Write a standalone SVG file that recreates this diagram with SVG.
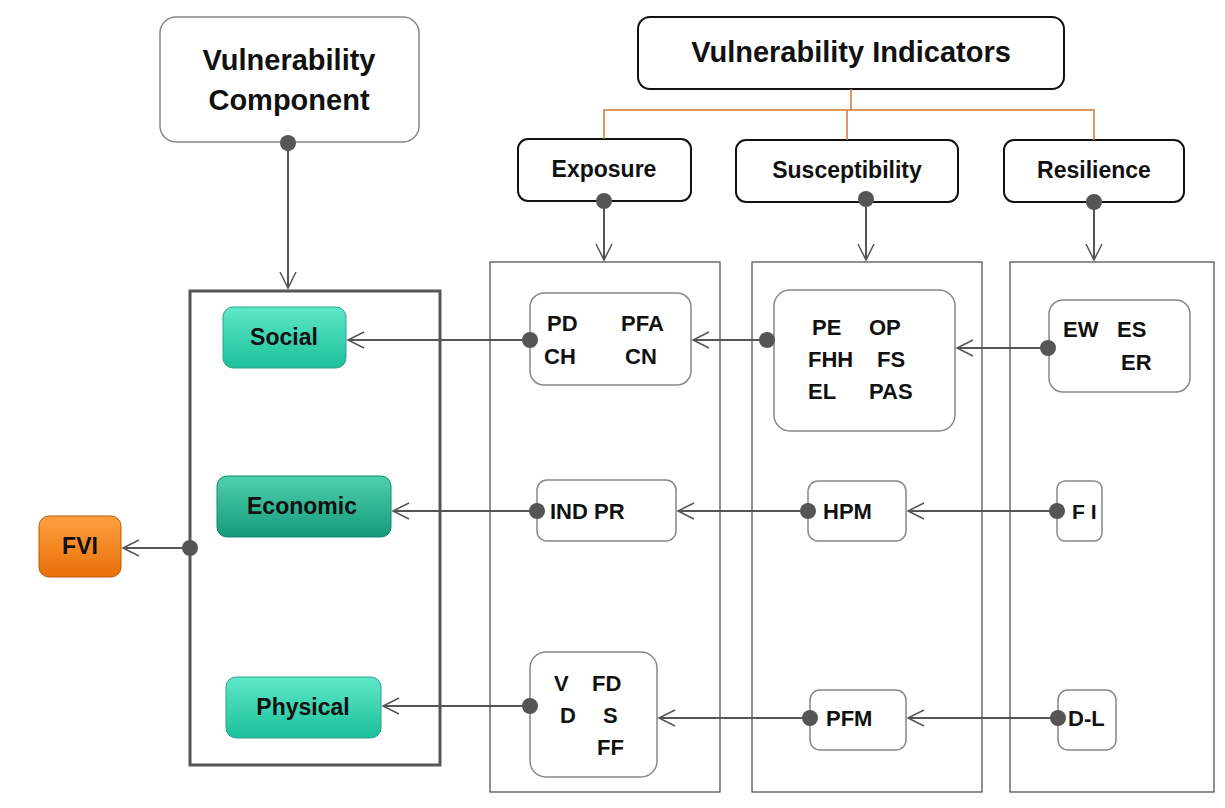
<svg xmlns="http://www.w3.org/2000/svg" width="1225" height="808" viewBox="0 0 1225 808">
<style>
text{font-family:"Liberation Sans",Arial,sans-serif;font-weight:bold;fill:#111}
.n{fill:#fff;stroke:#888;stroke-width:1.5}
.h{fill:#fff;stroke:#111;stroke-width:2}
.col{fill:none;stroke:#555;stroke-width:1.3}
.c{stroke:#555;stroke-width:2;fill:none;marker-start:url(#dot);marker-end:url(#arr)}
.o{stroke:#d07a30;stroke-width:1.5;fill:none}
</style>
<defs>
<linearGradient id="tg" x1="0" y1="0" x2="0" y2="1"><stop offset="0" stop-color="#5ee8c8"/><stop offset="1" stop-color="#1cbf9a"/></linearGradient>
<linearGradient id="tg2" x1="0" y1="0" x2="0" y2="1"><stop offset="0" stop-color="#4fd0ad"/><stop offset="1" stop-color="#159a7a"/></linearGradient>
<linearGradient id="og" x1="0" y1="0" x2="0" y2="1"><stop offset="0" stop-color="#ffa040"/><stop offset="1" stop-color="#e8700a"/></linearGradient>
<marker id="dot" markerWidth="10" markerHeight="10" refX="5" refY="5" markerUnits="userSpaceOnUse" overflow="visible"><circle cx="5" cy="5" r="8" fill="#555"/></marker>
<marker id="arr" markerWidth="20" markerHeight="20" refX="16" refY="8" markerUnits="userSpaceOnUse" orient="auto" overflow="visible"><path d="M0,0 L16,8 L0,16 M8,4 L16,8 L8,12" fill="none" stroke="#555" stroke-width="1.5"/></marker>
</defs>
<g id="columns">
<rect class="col" x="490" y="262" width="230" height="530"/>
<rect class="col" x="752" y="262" width="230" height="530"/>
<rect class="col" x="1010" y="262" width="204" height="530"/>
<rect x="190" y="291" width="250" height="474" fill="none" stroke="#555" stroke-width="3"/>
</g>
<g id="vulnerability-component"><rect class="n" x="160" y="17" width="259" height="125" rx="16"/><text x="289" y="70" font-size="29" text-anchor="middle">Vulnerability</text><text x="289" y="110" font-size="29" text-anchor="middle">Component</text></g>
<g id="vulnerability-indicators"><rect class="h" x="638" y="17" width="426" height="72" rx="12"/><text x="851" y="62" font-size="29" text-anchor="middle">Vulnerability Indicators</text></g>
<g id="exposure"><rect class="h" x="518" y="139" width="173" height="62" rx="10" stroke-width="1.5"/><text x="604" y="177" font-size="23" text-anchor="middle">Exposure</text></g>
<g id="susceptibility"><rect class="h" x="736" y="140" width="222" height="62" rx="10" stroke-width="1.5"/><text x="847" y="178" font-size="23" text-anchor="middle">Susceptibility</text></g>
<g id="resilience"><rect class="h" x="1004" y="140" width="180" height="62" rx="10" stroke-width="1.5"/><text x="1094" y="178" font-size="23" text-anchor="middle">Resilience</text></g>
<g id="social"><rect x="223" y="307" width="123" height="61" rx="10" fill="url(#tg)" stroke="#2aa58a"/><text x="284" y="345" font-size="23" text-anchor="middle">Social</text></g>
<g id="economic"><rect x="217" y="476" width="174" height="61" rx="10" fill="url(#tg2)" stroke="#138a6c"/><text x="302" y="514" font-size="23" text-anchor="middle">Economic</text></g>
<g id="physical"><rect x="226" y="677" width="155" height="61" rx="10" fill="url(#tg)" stroke="#2aa58a"/><text x="303" y="715" font-size="23" text-anchor="middle">Physical</text></g>
<g id="fvi"><rect x="39" y="516" width="82" height="61" rx="10" fill="url(#og)" stroke="#c05a00"/><text x="80" y="554" font-size="23" text-anchor="middle">FVI</text></g>
<g id="exp-social"><rect class="n" x="530" y="293" width="161" height="92" rx="14"/><text x="547" y="331" font-size="22">PD</text><text x="621" y="331" font-size="22">PFA</text><text x="544" y="364" font-size="22">CH</text><text x="625" y="364" font-size="22">CN</text></g>
<g id="sus-social"><rect class="n" x="774" y="290" width="181" height="141" rx="16"/><text x="812" y="335" font-size="22">PE</text><text x="869" y="335" font-size="22">OP</text><text x="808" y="367" font-size="22">FHH</text><text x="877" y="367" font-size="22">FS</text><text x="808" y="399" font-size="22">EL</text><text x="869" y="399" font-size="22">PAS</text></g>
<g id="res-social"><rect class="n" x="1049" y="300" width="141" height="92" rx="14"/><text x="1063" y="337" font-size="22">EW</text><text x="1117" y="337" font-size="22">ES</text><text x="1121" y="370" font-size="22">ER</text></g>
<g id="exp-economic"><rect class="n" x="537" y="480" width="139" height="61" rx="10"/><text x="550" y="519" font-size="22">IND  PR</text></g>
<g id="sus-economic"><rect class="n" x="808" y="481" width="98" height="60" rx="10"/><text x="823" y="519" font-size="22">HPM</text></g>
<g id="res-economic"><rect class="n" x="1057" y="481" width="45" height="60" rx="8"/><text x="1072" y="519" font-size="21">F I</text></g>
<g id="exp-physical"><rect class="n" x="530" y="652" width="127" height="125" rx="16"/><text x="554" y="691" font-size="22">V</text><text x="592" y="691" font-size="22">FD</text><text x="560" y="723" font-size="22">D</text><text x="603" y="723" font-size="22">S</text><text x="597" y="755" font-size="22">FF</text></g>
<g id="sus-physical"><rect class="n" x="810" y="690" width="96" height="60" rx="10"/><text x="826" y="726" font-size="22">PFM</text></g>
<g id="res-physical"><rect class="n" x="1058" y="690" width="58" height="60" rx="10"/><text x="1068" y="726" font-size="22">D-L</text></g>
<g id="connectors">
<path class="o" d="M851,89 V110 M604,139 V110 H1094 V140 M847,110 V140"/>
<path class="c" d="M288,143 V288"/>
<path class="c" d="M604,201 V260"/>
<path class="c" d="M866,199 V260"/>
<path class="c" d="M1094,202 V260"/>
<path class="c" d="M530,340 H348"/>
<path class="c" d="M767,340 H693"/>
<path class="c" d="M1048,348 H957"/>
<path class="c" d="M537,511 H393"/>
<path class="c" d="M808,511 H678"/>
<path class="c" d="M1057,511 H908"/>
<path class="c" d="M530,706 H383"/>
<path class="c" d="M810,718 H659"/>
<path class="c" d="M1058,718 H908"/>
<path class="c" d="M190,548 H123"/>
</g>
</svg>
